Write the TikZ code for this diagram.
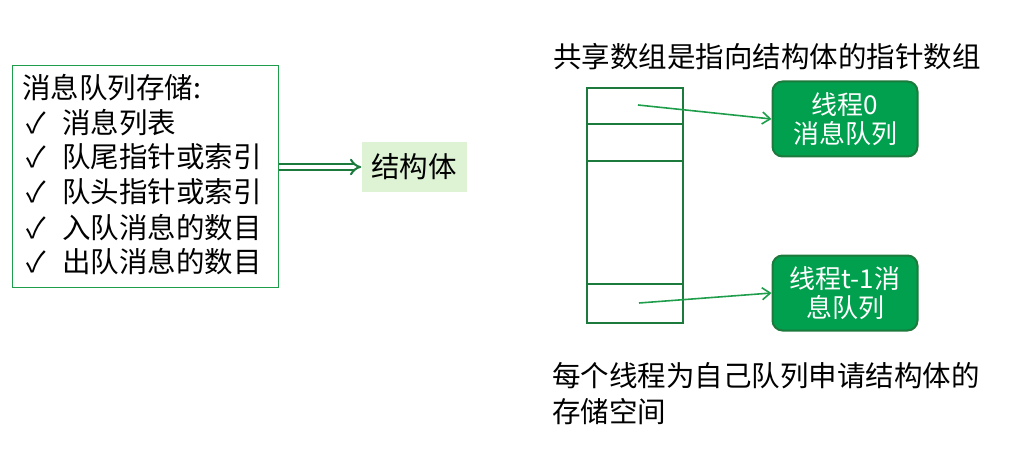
\documentclass[tikz,border=0pt]{standalone}
\usepackage{fontspec}
\newfontfamily\cjk{Noto Sans CJK SC}
\usetikzlibrary{arrows.meta}
\definecolor{gline}{HTML}{1E9E4A}
\definecolor{gfill}{HTML}{00A04E}
\definecolor{gdark}{HTML}{1B7A3C}
\definecolor{lgreen}{HTML}{DDF3D4}
\tikzset{
 txt/.style={font=\cjk\fontsize{28.5}{36}\selectfont, inner sep=0pt},
 gbox/.style={draw=gdark, line width=2pt, fill=gfill, rounded corners=10pt, text=white, font=\cjk\fontsize{26}{33}\selectfont, align=center, minimum width=145pt, minimum height=75pt, inner sep=0pt},
 parr/.style={draw=gline, line width=1.6pt, -{Straight Barb[length=8pt,width=12pt]}}
}
\begin{document}
\begin{tikzpicture}[x=1pt,y=-1pt]
\useasboundingbox (0,0) rectangle (1014,449);
% left list
\node[draw=gline, line width=1.2pt, minimum width=266pt, minimum height=222pt, anchor=north west, inner sep=0pt] (lbox) at (12,65) {};
\node[txt, anchor=west] (l0) at (22,88) {消息队列存储:};
\node[txt, anchor=west] (c1) at (26,123) {✓};
\node[txt, anchor=west] (l1) at (62,123) {消息列表};
\node[txt, anchor=west] (c2) at (26,157) {✓};
\node[txt, anchor=west] (l2) at (62,157) {队尾指针或索引};
\node[txt, anchor=west] (c3) at (26,192) {✓};
\node[txt, anchor=west] (l3) at (62,192) {队头指针或索引};
\node[txt, anchor=west] (c4) at (26,228) {✓};
\node[txt, anchor=west] (l4) at (62,228) {入队消息的数目};
\node[txt, anchor=west] (c5) at (26,262) {✓};
\node[txt, anchor=west] (l5) at (62,262) {出队消息的数目};
\node[fill=lgreen, minimum width=105pt, minimum height=50pt, inner sep=0pt, txt] (st) at (414,167) {结构体};
\draw[draw=gdark, line width=2pt, double distance=3.5pt, -{Implies}] (lbox.east |- st) -- (st.west);
% title
\node[txt] (title) at (767,57) {共享数组是指向结构体的指针数组};
% array
\node[draw=gdark, line width=2pt, minimum width=96pt, minimum height=235pt, anchor=north west, inner sep=0pt] (arr) at (586,87) {};
\draw[gdark, line width=2pt] (arr.west |- 0,124) -- (arr.east |- 0,124);
\draw[gdark, line width=2pt] (arr.west |- 0,161) -- (arr.east |- 0,161);
\draw[gdark, line width=2pt] (arr.west |- 0,284) -- (arr.east |- 0,284);
\coordinate (p0) at (638,105);
\coordinate (p1) at (639,303);
\node[gbox] (t0) at (845,119) {线程0\\[-4pt]消息队列};
\node[gbox] (t1) at (845,293) {线程t-1消\\[-4pt]息队列};
\draw[parr] (p0) -- (t0.west);
\draw[parr] (p1) -- (t1.west);
\node[txt, anchor=north west, align=left] (bot) at (552,362) {每个线程为自己队列申请结构体的\\存储空间};
\end{tikzpicture}
\end{document}
